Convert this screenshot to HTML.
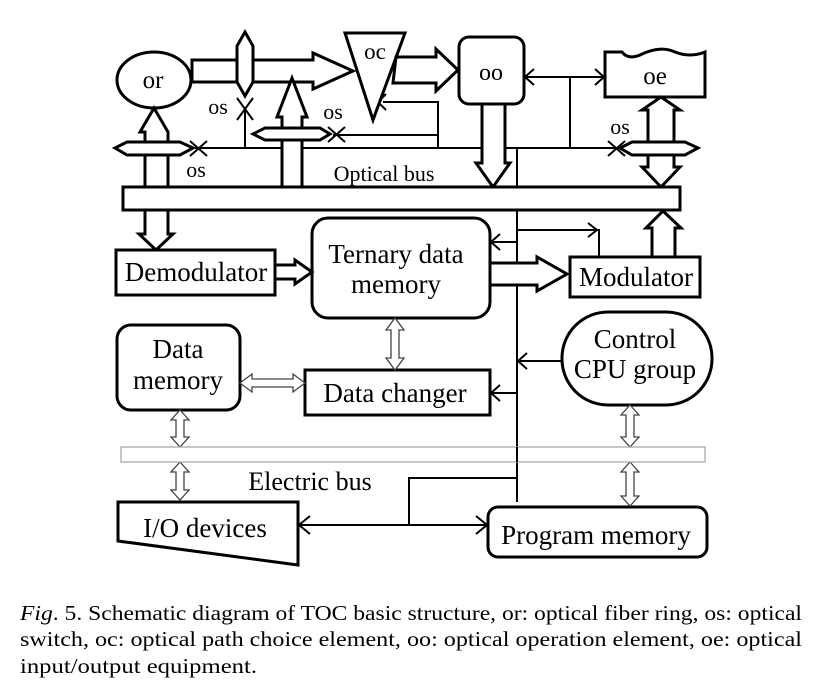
<!DOCTYPE html>
<html><head><meta charset="utf-8"><style>
html,body{margin:0;padding:0;background:#fff;}
svg{display:block;}
text{font-family:"Liberation Serif",serif;fill:#000;}
</style></head><body>
<svg width="821" height="683" viewBox="0 0 821 683" xmlns="http://www.w3.org/2000/svg">
<g fill="none" stroke="#000" stroke-width="2" stroke-linejoin="miter">
<polyline points="195,148 620,148"/>
<line x1="245" y1="110" x2="245" y2="148"/>
<polyline points="383,102 438,102 438,148"/>
<line x1="333" y1="135" x2="438" y2="135"/>
<polyline points="386,94 378,102 386,110" />
<line x1="524" y1="77" x2="605" y2="77"/>
<polyline points="534,69 525,77 534,85"/>
<polyline points="595,69 604,77 595,85"/>
<line x1="570" y1="77" x2="570" y2="148"/>
<line x1="517" y1="148" x2="517" y2="187"/>
<line x1="517" y1="210" x2="517" y2="502"/>
<polyline points="517,230 599,230 599,257"/>
<polyline points="588,223 597,230 588,237"/>
<line x1="490" y1="242" x2="517" y2="242"/>
<polyline points="500,234 491,242 500,250"/>
<line x1="490" y1="393" x2="517" y2="393"/>
<polyline points="500,385 491,393 500,401"/>
<line x1="517" y1="361" x2="562" y2="361"/>
<polyline points="527,353 518,361 527,369"/>
<polyline points="409,525 409,478 517,478"/>
<line x1="298" y1="525" x2="488" y2="525"/>
<polyline points="310,516 299,525 310,534"/>
<polyline points="476,516 487,525 476,534"/>
<line x1="237" y1="98" x2="253" y2="120"/><line x1="253" y1="98" x2="237" y2="120"/>
<line x1="190" y1="141" x2="207" y2="156"/><line x1="190" y1="156" x2="207" y2="141"/>
<line x1="328" y1="127" x2="345" y2="142"/><line x1="328" y1="142" x2="345" y2="127"/>
<line x1="608" y1="141" x2="625" y2="156"/><line x1="608" y1="156" x2="625" y2="141"/>
</g>
<g fill="#fff" stroke="#000" stroke-width="3" stroke-linejoin="miter">
<ellipse cx="154" cy="80" rx="37" ry="28"/>
<polygon points="192,60 313,60 313,53 353,71 313,89 313,82 192,82"/>
<polygon points="245,32 253,46 253,82 245,96 237,82 237,46"/>
<polygon points="345,33 405,33 373,120"/>
<polygon points="396,57 436,57 436,49 458,70 436,91 436,83 393,83"/>
<polygon points="282,187 282,117 277,117 292,78 307,117 302,117 302,187"/>
<polygon points="253,134 265,128 320,128 330,134 320,140 265,140"/>
<polygon points="145,187 145,132 140,132 154,108 168,132 168,132 168,187" />
<polygon points="115,148 127,142 180,142 193,148 180,155 127,155"/>
<rect x="459" y="37" width="65" height="67" rx="10"/>
<polygon points="482,104 505,104 505,163 510,163 493,187 476,163 482,163"/>
<path d="M605,52 L622,52 Q628,60 640,55 Q660,45 675,52 Q690,58 705,52 L705,97 L605,97 Z"/>
<polygon points="661,97 680,110 674,110 674,167 680,167 661,187 642,167 648,167 648,110 642,110"/>
<polygon points="620,148 632,142 685,142 698,148 685,155 632,155"/>
<rect x="123" y="187" width="557" height="23"/>
<polygon points="145,210 168,210 168,234 173,234 156,250 139,234 145,234"/>
<polygon points="652,257 652,228 646,228 663,211 681,228 675,228 675,257"/>
<rect x="116" y="250" width="159" height="45"/>
<rect x="312" y="218" width="178" height="100" rx="16"/>
<rect x="570" y="257" width="130" height="40"/>
<polygon points="275,265 295,265 295,260 312,272 295,284 295,279 275,279"/>
<polygon points="490,263 537,263 537,257 567,274 537,291 537,285 490,285"/>
<rect x="117" y="325" width="123" height="85" rx="14"/>
<rect x="305" y="370" width="185" height="45"/>
<rect x="562" y="312" width="150" height="93" rx="46"/>
<rect x="488" y="507" width="219" height="50" rx="10"/>
<polygon points="118,502 298,502 298,565 118,541"/>
</g>
<g fill="#fff" stroke="#444" stroke-width="1.3">
<polygon points="240,383 252,374 252,379 293,379 293,374 305,383 293,392 293,387 252,387 252,392"/>
<polygon points="395,318 404,330 399,330 399,358 404,358 395,370 386,358 391,358 391,330 386,330"/>
<polygon points="180,410 189,420 184,420 184,437 189,437 180,447 171,437 176,437 176,420 171,420"/>
<polygon points="180,462 189,472 184,472 184,490 189,490 180,500 171,490 176,490 176,472 171,472"/>
<polygon points="630,405 639,415 634,415 634,437 639,437 630,447 621,437 626,437 626,415 621,415"/>
<polygon points="630,462 639,472 634,472 634,496 639,496 630,506 621,496 626,496 626,472 621,472"/>
<rect x="121" y="447" width="584" height="15" stroke="#aaa"/>
</g>
<line x1="517" y1="447" x2="517" y2="462" stroke="#000" stroke-width="2"/>
<text x="153" y="88" font-size="25" text-anchor="middle">or</text>
<text x="375" y="59" font-size="23" text-anchor="middle">oc</text>
<text x="491" y="80" font-size="24" text-anchor="middle">oo</text>
<text x="655" y="84" font-size="25" text-anchor="middle">oe</text>
<text x="218" y="114" font-size="22" text-anchor="middle">os</text>
<text x="333" y="119" font-size="22" text-anchor="middle">os</text>
<text x="196" y="177" font-size="22" text-anchor="middle">os</text>
<text x="620" y="134" font-size="22" text-anchor="middle">os</text>
<text x="384" y="181" font-size="22" text-anchor="middle">Optical bus</text>
<text x="196" y="281" font-size="27" text-anchor="middle">Demodulator</text>
<text x="396" y="263" font-size="27" text-anchor="middle">Ternary data</text>
<text x="396" y="293" font-size="27" text-anchor="middle">memory</text>
<text x="636" y="286" font-size="27" text-anchor="middle">Modulator</text>
<text x="178" y="358" font-size="27" text-anchor="middle">Data</text>
<text x="178" y="389" font-size="27" text-anchor="middle">memory</text>
<text x="395" y="402" font-size="27" text-anchor="middle">Data changer</text>
<text x="635" y="348" font-size="27" text-anchor="middle">Control</text>
<text x="635" y="378" font-size="27" text-anchor="middle">CPU group</text>
<text x="310" y="490" font-size="26" text-anchor="middle">Electric bus</text>
<text x="205" y="537" font-size="27" text-anchor="middle">I/O devices</text>
<text x="596" y="544" font-size="27" text-anchor="middle">Program memory</text>
<text x="20" y="620" font-size="21" textLength="782" lengthAdjust="spacingAndGlyphs"><tspan font-style="italic">Fig</tspan>. 5.  Schematic diagram of TOC basic structure, or: optical fiber ring, os: optical</text>
<text x="20" y="646" font-size="21" textLength="782" lengthAdjust="spacingAndGlyphs">switch, oc: optical path choice element, oo: optical operation element, oe: optical</text>
<text x="20" y="673" font-size="21" textLength="237" lengthAdjust="spacingAndGlyphs">input/output equipment.</text>
</svg>
</body></html>
